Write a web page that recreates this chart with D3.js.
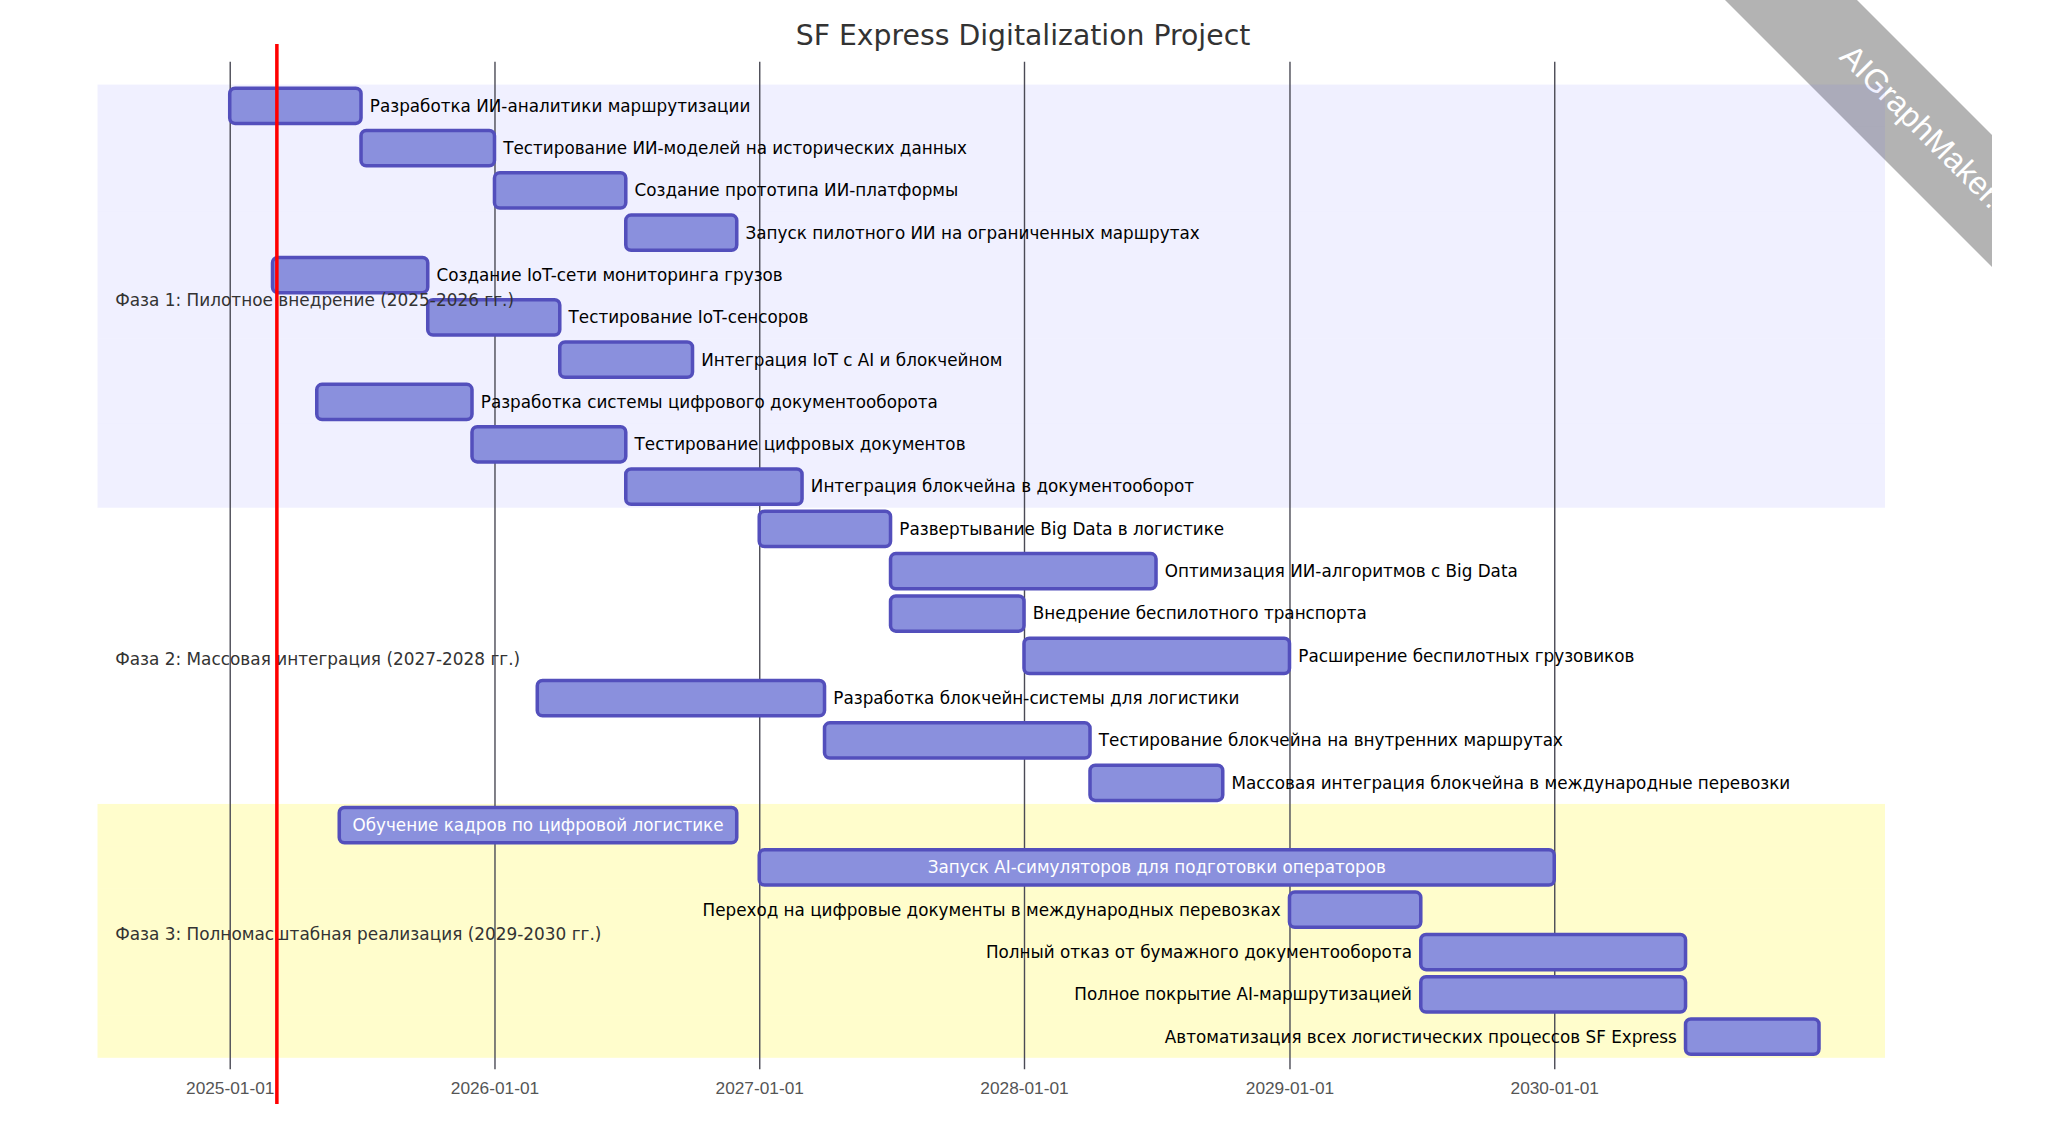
<html>
  <head>
    <meta charset="UTF-8">
    <style>
      body { margin: 0; background: #fff; }
      .task-text { font-family: 'DejaVu Sans', sans-serif; font-size: 16.8px; }
      .section-title { font-family: 'DejaVu Sans', sans-serif; font-size: 16.9px; fill: #333; }
      .title { font-family: 'DejaVu Sans', sans-serif; font-size: 28.3px; fill: #333; }
      .grid text { font-family: 'Liberation Sans', Arial, sans-serif; font-size: 17.3px; fill: #555; }
      .grid line { stroke: #4a4a55; stroke-width: 1.4; }
      .grid path { display: none; }
    </style>
  </head>
  <body>
    <script src="https://d3js.org/d3.v7.min.js"></script>
    <svg id="chart" width="2048" height="1148"></svg>

    <script>
      var chartTitle = "SF Express Digitalization Project";
      var sections = [
        "Фаза 1: Пилотное внедрение (2025-2026 гг.)",
        "Фаза 2: Массовая интеграция (2027-2028 гг.)",
        "Фаза 3: Полномасштабная реализация (2029-2030 гг.)"
      ];
      var taskNames = [
        "Разработка ИИ-аналитики маршрутизации",
        "Тестирование ИИ-моделей на исторических данных",
        "Создание прототипа ИИ-платформы",
        "Запуск пилотного ИИ на ограниченных маршрутах",
        "Создание IoT-сети мониторинга грузов",
        "Тестирование IoT-сенсоров",
        "Интеграция IoT с AI и блокчейном",
        "Разработка системы цифрового документооборота",
        "Тестирование цифровых документов",
        "Интеграция блокчейна в документооборот",
        "Развертывание Big Data в логистике",
        "Оптимизация ИИ-алгоритмов с Big Data",
        "Внедрение беспилотного транспорта",
        "Расширение беспилотных грузовиков",
        "Разработка блокчейн-системы для логистики",
        "Тестирование блокчейна на внутренних маршрутах",
        "Массовая интеграция блокчейна в международные перевозки",
        "Обучение кадров по цифровой логистике",
        "Запуск AI-симуляторов для подготовки операторов",
        "Переход на цифровые документы в международных перевозках",
        "Полный отказ от бумажного документооборота",
        "Полное покрытие AI-маршрутизацией",
        "Автоматизация всех логистических процессов SF Express"
      ];
      var taskSection = [0,0,0,0,0,0,0,0,0,0, 1,1,1,1,1,1,1, 2,2,2,2,2,2];
      var taskStarts = [
        "2025-01-01","2025-07-01","2026-01-01","2026-07-01","2025-03-01",
        "2025-10-01","2026-04-01","2025-05-01","2025-12-01","2026-07-01",
        "2027-01-01","2027-07-01","2027-07-01","2028-01-01","2026-03-01",
        "2027-04-01","2028-04-01",
        "2025-06-01","2027-01-01","2029-01-01","2029-07-01","2029-07-01","2030-07-01"
      ];
      var taskEnds = [
        "2025-07-01","2026-01-01","2026-07-01","2026-12-01","2025-10-01",
        "2026-04-01","2026-10-01","2025-12-01","2026-07-01","2027-03-01",
        "2027-07-01","2028-07-01","2028-01-01","2029-01-01","2027-04-01",
        "2028-04-01","2028-10-01",
        "2026-12-01","2030-01-01","2029-07-01","2030-07-01","2030-07-01","2031-01-01"
      ];
      var tickDates = ["2025-01-01","2026-01-01","2027-01-01","2028-01-01","2029-01-01","2030-01-01"];
      var todayDate = "2025-03-07";
      var watermark = "AIGraphMaker.net";

      var parseTime = d3.timeParse("%Y-%m-%d");
      var svg = d3.select("#chart");

      /* mermaid-like layout, scaled */
      var k = 1.763,
          left = 97.5,
          pageW = 1992,
          leftPadding = 75 * k,
          rightEdge = 1885,
          topPadding = 50 * k,
          gap = 24 * k,
          barH = 20 * k;

      var starts = taskStarts.map(parseTime), ends = taskEnds.map(parseTime);
      var x = d3.scaleTime()
        .domain([d3.min(starts), d3.max(ends)])
        .range([left + leftPadding, 1819]);
      var axisY = topPadding + taskNames.length * gap + 8;

      var colors = ["#6666ff", "#ffffff", "#fff400"],
          opac = [0.098, 0.2, 0.2];

      /* watermark ribbon */
      svg.append("clipPath").attr("id", "wm").append("rect")
        .attr("x", 0).attr("y", 0).attr("width", pageW).attr("height", 1148);
      var wm = svg.append("g").attr("clip-path", "url(#wm)");
      wm.append("polygon")
        .attr("points", "1725,0 1857,0 2100,243 2100,375")
        .style("fill", "#b3b3b3");
      wm.append("text")
        .attr("transform", "translate(1938,142) rotate(45)")
        .attr("text-anchor", "middle")
        .attr("dy", "0.35em")
        .style("font-family", "'Liberation Sans', Arial, sans-serif")
        .style("font-size", "32px")
        .style("fill", "#fff")
        .text(watermark);

      /* section backgrounds, one per row */
      svg.append("g").selectAll("rect")
        .data(taskNames)
        .enter().append("rect")
        .attr("x", left)
        .attr("y", function(d, i) { return topPadding - 2 * k + i * gap; })
        .attr("width", rightEdge - left)
        .attr("height", gap)
        .style("fill", function(d, i) { return colors[taskSection[i]]; })
        .style("fill-opacity", function(d, i) { return opac[taskSection[i]]; });

      /* grid + axis */
      svg.append("g")
        .attr("class", "grid")
        .attr("transform", "translate(0," + axisY + ")")
        .call(d3.axisBottom(x)
          .tickValues(tickDates.map(parseTime))
          .tickSize(-(axisY - 35 * k))
          .tickPadding(12.5)
          .tickFormat(d3.timeFormat("%Y-%m-%d")));

      /* bars */
      var bars = svg.append("g");
      bars.selectAll("rect")
        .data(taskNames)
        .enter().append("rect")
        .attr("x", function(d, i) { return x(starts[i]); })
        .attr("y", function(d, i) { return topPadding + i * gap; })
        .attr("width", function(d, i) { return x(ends[i]) - x(starts[i]); })
        .attr("height", barH)
        .attr("rx", 3 * k)
        .style("fill", "#8a90dd")
        .style("stroke", "#534fbc")
        .style("stroke-width", 2 * k);

      /* task labels: inside, right of bar, or left when it would run off */
      bars.selectAll("text")
        .data(taskNames)
        .enter().append("text")
        .attr("class", "task-text")
        .attr("y", function(d, i) { return topPadding + i * gap + barH / 2; })
        .attr("dy", "0.35em")
        .text(function(d) { return d; })
        .each(function(d, i) {
          var t = d3.select(this),
              w = this.getComputedTextLength(),
              x0 = x(starts[i]), x1 = x(ends[i]);
          if (w > x1 - x0) {
            if (x1 + w + 1.5 * leftPadding > pageW + 20) {
              t.attr("x", x0 - 5 * k).attr("text-anchor", "end").style("fill", "#000");
            } else {
              t.attr("x", x1 + 5 * k).attr("text-anchor", "start").style("fill", "#000");
            }
          } else {
            t.attr("x", (x0 + x1) / 2).attr("text-anchor", "middle").style("fill", "#fff");
          }
        });

      /* section titles */
      svg.append("g").selectAll("text")
        .data(sections)
        .enter().append("text")
        .attr("class", "section-title")
        .attr("x", left + 10 * k)
        .attr("y", function(d, s) {
          var first = taskSection.indexOf(s),
              n = taskSection.filter(function(v) { return v == s; }).length;
          return topPadding + first * gap + n * gap / 2;
        })
        .attr("dy", "0.35em")
        .text(function(d) { return d; });

      /* today marker */
      var today = parseTime(todayDate);
      svg.append("line")
        .attr("x1", x(today)).attr("x2", x(today))
        .attr("y1", 25 * k).attr("y2", 1104)
        .style("stroke", "red")
        .style("stroke-width", 2 * k);

      /* title */
      svg.append("text")
        .attr("class", "title")
        .attr("x", 1023)
        .attr("y", 25 * k + 1)
        .attr("text-anchor", "middle")
        .text(chartTitle);
    </script>
  </body>
</html>
